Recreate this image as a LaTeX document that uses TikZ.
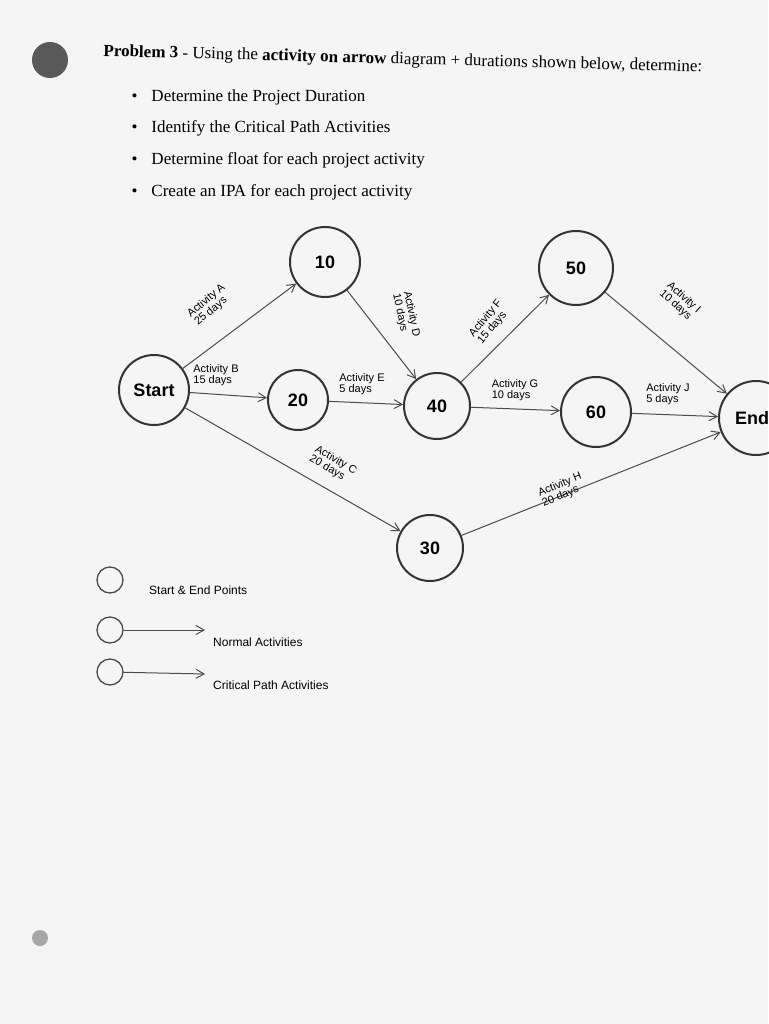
\documentclass[tikz,border=0pt]{standalone}
\usepackage{fontspec}
\setmainfont{Liberation Serif}
\newfontfamily\arial{Liberation Sans}
\usetikzlibrary{arrows.meta}
\begin{document}
\begin{tikzpicture}[x=1pt,y=-1pt,
 ev/.style={circle,draw=black!80,line width=2pt,minimum size=#1,inner sep=0pt,font=\arial\bfseries\fontsize{18}{20}\selectfont},
 ev/.default=66pt,
 act/.style={draw=black!70,line width=1pt,-{Straight Barb[length=8pt,width=9pt]}},
 lab/.style={font=\arial\fontsize{11}{11}\selectfont,align=left,inner sep=1pt},
 hd/.style={font=\fontsize{17}{19}\selectfont,anchor=west}]
\useasboundingbox[fill=white!96!black] (0,0) rectangle (768,1024);
\fill[black!65] (50,60) circle (18);
\fill[black!35] (40,938) circle (8);
\node[hd,rotate=-1.5] (t) at (100,52) {\textbf{Problem 3} - Using the \textbf{activity on arrow} diagram + durations shown below, determine:};
\foreach \y/\s [count=\i] in {97/Determine the Project Duration,128/Identify the Critical Path Activities,160/Determine float for each project activity,192/Create an IPA for each project activity}{
 \node[hd] (b\i) at (128,\y) {\textbullet\hspace{14pt}\s};}
\node[ev=70pt] (S) at (154,390) {Start};
\node[ev=70pt] (n10) at (325,262) {10};
\node[ev=60pt] (n20) at (298,400) {20};
\node[ev] (n40) at (437,406) {40};
\node[ev] (n30) at (430,548) {30};
\node[ev=74pt] (n50) at (576,268) {50};
\node[ev=70pt] (n60) at (596,412) {60};
\node[ev=74pt,text width=58pt,align=left] (E) at (756,418) {\hspace*{8pt}End};
\draw[act] (S) -- (n10);
\draw[act] (S) -- (n20);
\draw[act] (S) -- (n30);
\draw[act] (n10) -- (n40);
\draw[act] (n20) -- (n40);
\draw[act] (n40) -- (n50);
\draw[act] (n40) -- (n60);
\draw[act] (n30) -- (E);
\draw[act] (n50) -- (E);
\draw[act] (n60) -- (E);
\node[lab,rotate=40] (lA) at (210,305) {Activity A\\25 days};
\node[lab] (lB) at (216,375) {Activity B\\15 days};
\node[lab,rotate=-30] (lC) at (333,465) {Activity C\\20 days};
\node[lab,rotate=-78] (lD) at (406,315) {Activity D\\10 days};
\node[lab] (lE) at (362,384) {Activity E\\5 days};
\node[lab,rotate=50] (lF) at (490,322) {Activity F\\15 days};
\node[lab] (lG) at (515,390) {Activity G\\10 days};
\node[lab,rotate=22] (lH) at (562,490) {Activity H\\20 days};
\node[lab,rotate=-42] (lI) at (680,302) {Activity I\\10 days};
\node[lab] (lJ) at (668,394) {Activity J\\5 days};
\node[circle,draw=black!70,line width=1.3pt,minimum size=26pt] (c1) at (110,580) {};
\node[lab,font=\arial\fontsize{12}{13}\selectfont,anchor=west] (t1) at (148,590) {Start \& End Points};
\node[circle,draw=black!70,line width=1.3pt,minimum size=26pt] (c2) at (110,630) {};
\coordinate (e2) at (205,630);
\draw[act] (c2) -- (e2);
\node[lab,font=\arial\fontsize{12}{13}\selectfont,anchor=west] (t2) at (212,642) {Normal Activities};
\node[circle,draw=black!70,line width=1.3pt,minimum size=26pt] (c3) at (110,672) {};
\coordinate (e3) at (205,674);
\draw[act] (c3) -- (e3);
\node[lab,font=\arial\fontsize{12}{13}\selectfont,anchor=west] (t3) at (212,685) {Critical Path Activities};
\end{tikzpicture}
\end{document}
